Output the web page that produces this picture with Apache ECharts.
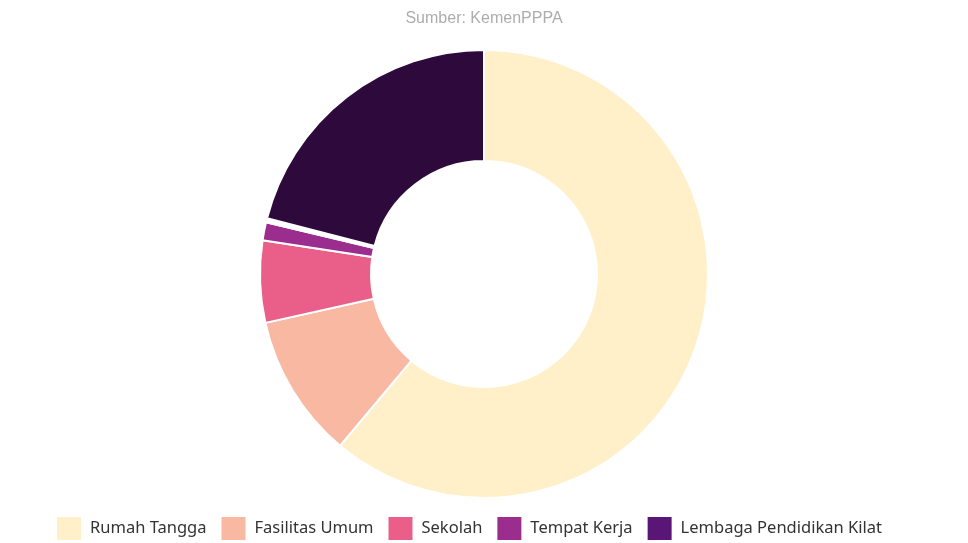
<!DOCTYPE html>
<html>
<head>
<meta charset="utf-8">
<script src="https://cdn.jsdelivr.net/npm/echarts@6/dist/echarts.min.js"></script>
<style>
  html, body { margin: 0; padding: 0; background: #fff; }
  #chart { width: 968px; height: 543px; }
</style>
</head>
<body>
<div id="chart"></div>
<script>
  // lokasi kejadian, share in percent
  const categories = ['Rumah Tangga', 'Fasilitas Umum', 'Sekolah', 'Tempat Kerja', 'Lembaga Pendidikan Kilat', 'Lainnya']
  const values = [61.1, 10.4, 5.9, 1.3, 0.3, 21.0]
  const colors = ['#FFF0CA', '#F8B8A2', '#EA5F89', '#9B2D8E', '#5A1677', '#2D0A3B']
  const legendNames = categories.slice(0, 5)

  const chart = echarts.init(document.getElementById('chart'))

  function formatData() {
    let _arr = []
    for (let i = 0; i < categories.length; i++) {
      let item = { name: categories[i], value: values[i], itemStyle: { color: colors[i] } }
      // the tiny slice disappears under the white borders in the source
      if (categories[i] === 'Lembaga Pendidikan Kilat') {
        item.itemStyle = { color: '#ffffff' }
      }
      _arr.push(item)
    }
    return _arr
  }

  const option = {
    animation: false,
    title: {
      text: 'Sumber: KemenPPPA',
      left: 'center',
      top: 6,
      textStyle: {
        color: '#adadad',
        fontSize: 16,
        fontWeight: 'normal',
        fontFamily: 'Liberation Sans'
      }
    },
    legend: {
      top: 512,
      left: 52,
      itemWidth: 24,
      itemHeight: 23,
      itemGap: 15,
      icon: 'rect',
      itemStyle: { borderWidth: 0 },
      textStyle: { color: '#333333', fontSize: 16.5, fontFamily: 'Noto Sans', padding: [0, 0, 0, 4] },
      data: legendNames.map((n, i) => ({ name: n, itemStyle: { color: colors[i] } }))
    },
    series: [{
      type: 'pie',
      center: [484, 274],
      radius: [113, 224],
      startAngle: 90,
      clockwise: true,
      label: { show: false },
      labelLine: { show: false },
      itemStyle: { borderColor: '#ffffff', borderWidth: 2 },
      emphasis: { disabled: true },
      data: formatData()
    }]
  }
  chart.setOption(option)
</script>
</body>
</html>
